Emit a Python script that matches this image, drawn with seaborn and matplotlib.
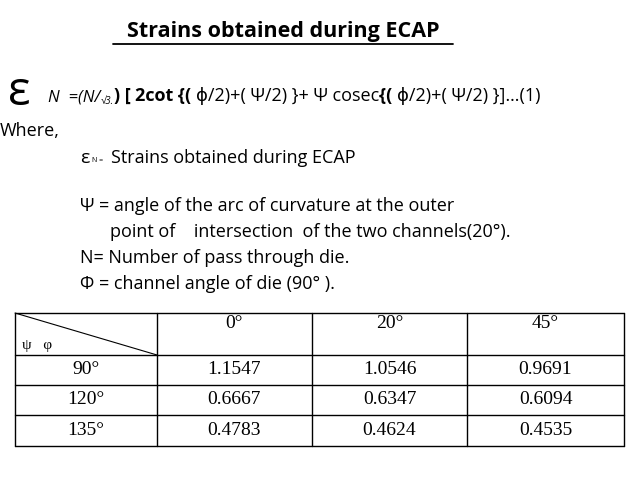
import matplotlib
matplotlib.use('Agg')
import matplotlib.pyplot as plt
import seaborn as sns

sns.set_style('white')
plt.rcParams['font.family'] = ['Open Sans', 'DejaVu Sans']
plt.rcParams['text.color'] = 'black'

col_labels = ['0°', '20°', '45°']
row_labels = ['90°', '120°', '135°']
values = [['1.1547', '1.0546', '0.9691'],
          ['0.6667', '0.6347', '0.6094'],
          ['0.4783', '0.4624', '0.4535']]

fig = plt.figure(figsize=(6.38, 4.78), dpi=100)
ax = fig.add_axes([0, 0, 1, 1])
ax.set_xlim(0, 638)
ax.set_ylim(478, 0)
ax.axis('off')
renderer = fig.canvas.get_renderer()


def put_run(x, y, pieces):
    # pieces: (text, size, bold, italic, dy) drawn one after another
    for txt, size, bold, italic, dy in pieces:
        t = ax.text(x, y + dy, txt, fontsize=size, va='center',
                    fontweight='bold' if bold else 'normal',
                    style='italic' if italic else 'normal')
        x += t.get_window_extent(renderer).width
    return x


body = 13
ax.text(283, 31, 'Strains obtained during ECAP', fontsize=15.5, fontweight='bold',
        ha='center', va='center')
ax.plot([113, 453], [44, 44], color='black', lw=1.3)

ax.text(8, 92, 'ε', fontsize=34, va='center')
put_run(48, 96, [('N  =(N/', 12, False, True, 1),
                 ('√3.', 7, False, True, 5),
                 (') [ ', 13, True, False, 0),
                 ('2cot {( ', 13, True, False, 0),
                 ('ϕ/2)+( Ψ/2) }+ Ψ cosec', 13, False, False, 0),
                 ('{( ', 13, True, False, 0),
                 ('ϕ/2)+( Ψ/2) }]…(1)', 13, False, False, 0)])
ax.text(0, 131, 'Where,', fontsize=body, va='center')
ax.text(80, 158, 'ε', fontsize=14, va='center')
ax.text(92, 161, 'N =', fontsize=5, va='center')
ax.text(111, 158, 'Strains obtained during ECAP', fontsize=body, va='center')
ax.text(80, 206, 'Ψ = angle of the arc of curvature at the outer', fontsize=body, va='center')
ax.text(110, 232, 'point of    intersection  of the two channels(20°).', fontsize=body, va='center')
ax.text(80, 258, 'N= Number of pass through die.', fontsize=body, va='center')
ax.text(80, 284, 'Φ = channel angle of die (90° ).', fontsize=body, va='center')

# table
xs = [15, 157, 312, 467, 624]
ys = [313, 355, 385, 415, 446]
for x in xs:
    ax.plot([x, x], [ys[0], ys[-1]], color='black', lw=1)
for y in ys:
    ax.plot([xs[0], xs[-1]], [y, y], color='black', lw=1)
ax.plot([xs[0], xs[1]], [ys[0], ys[1]], color='black', lw=0.8)
serif = ['Liberation Serif']
ax.text(22, 346, 'ψ   φ', fontsize=11, family=serif, va='center')
for j, lab in enumerate(col_labels):
    ax.text((xs[j + 1] + xs[j + 2]) / 2, 323, lab, fontsize=14, family=serif,
            ha='center', va='center')
for i, lab in enumerate(row_labels):
    yc = (ys[i + 1] + ys[i + 2]) / 2
    ax.text((xs[0] + xs[1]) / 2, yc, lab, fontsize=14, family=serif, ha='center', va='center')
    for j, v in enumerate(values[i]):
        ax.text((xs[j + 1] + xs[j + 2]) / 2, yc, v, fontsize=14, family=serif,
                ha='center', va='center')

fig.savefig('out.png', dpi=100)
